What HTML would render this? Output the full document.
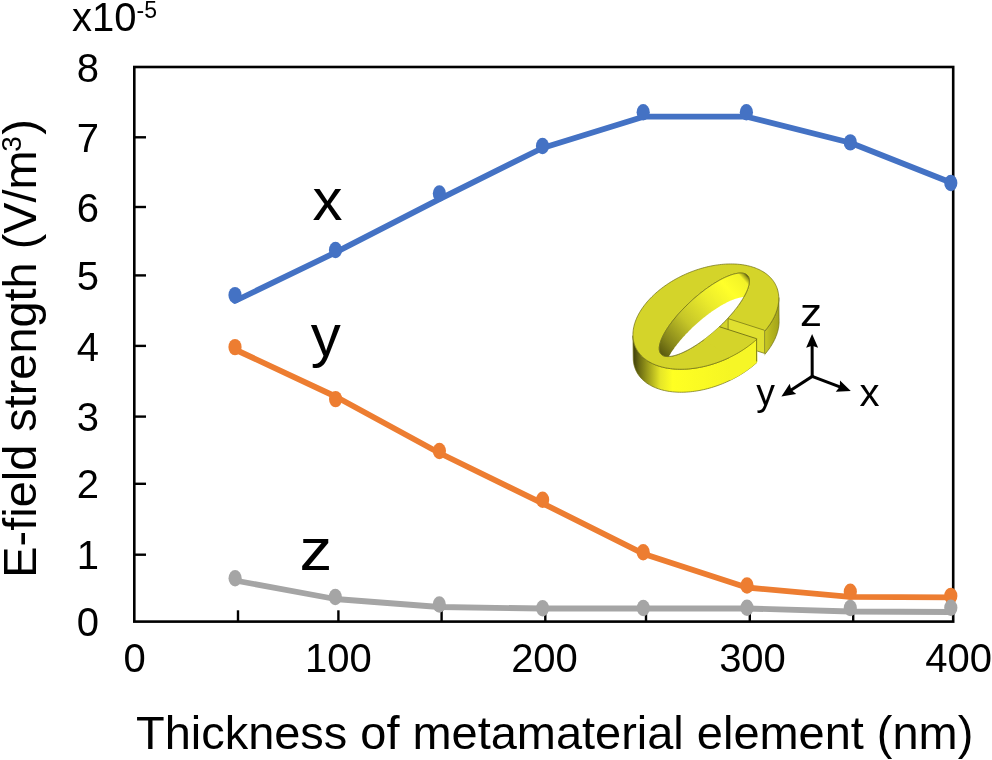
<!DOCTYPE html>
<html><head><meta charset="utf-8"><title>E-field strength vs thickness</title>
<style>
html,body{margin:0;padding:0;background:#fff;}
body{width:992px;height:760px;overflow:hidden;}
svg{display:block;}
text{font-family:"Liberation Sans", Arial, sans-serif;fill:#000;}
</style></head>
<body>
<svg width="992" height="760" viewBox="0 0 992 760">
<rect width="992" height="760" fill="#fff"/>
<rect x="134.3" y="67.0" width="818.9" height="554.6" fill="none" stroke="#000" stroke-width="2.6"/>
<line x1="134.3" y1="137.3" x2="146" y2="137.3" stroke="#000" stroke-width="2.4"/>
<line x1="134.3" y1="207.0" x2="146" y2="207.0" stroke="#000" stroke-width="2.4"/>
<line x1="134.3" y1="275.4" x2="146" y2="275.4" stroke="#000" stroke-width="2.4"/>
<line x1="134.3" y1="345.9" x2="146" y2="345.9" stroke="#000" stroke-width="2.4"/>
<line x1="134.3" y1="416.6" x2="146" y2="416.6" stroke="#000" stroke-width="2.4"/>
<line x1="134.3" y1="483.8" x2="146" y2="483.8" stroke="#000" stroke-width="2.4"/>
<line x1="134.3" y1="554.7" x2="146" y2="554.7" stroke="#000" stroke-width="2.4"/>
<line x1="238.0" y1="621.6" x2="238.0" y2="610.3" stroke="#000" stroke-width="2.4"/>
<line x1="338.4" y1="621.6" x2="338.4" y2="610.3" stroke="#000" stroke-width="2.4"/>
<line x1="441.6" y1="621.6" x2="441.6" y2="610.3" stroke="#000" stroke-width="2.4"/>
<line x1="545.3" y1="621.6" x2="545.3" y2="610.3" stroke="#000" stroke-width="2.4"/>
<line x1="646.0" y1="621.6" x2="646.0" y2="610.3" stroke="#000" stroke-width="2.4"/>
<line x1="749.8" y1="621.6" x2="749.8" y2="610.3" stroke="#000" stroke-width="2.4"/>
<line x1="853.2" y1="621.6" x2="853.2" y2="610.3" stroke="#000" stroke-width="2.4"/>
<text x="99" y="81.6" text-anchor="end" font-size="40">8</text>
<text x="99" y="151.9" text-anchor="end" font-size="40">7</text>
<text x="99" y="221.6" text-anchor="end" font-size="40">6</text>
<text x="99" y="290" text-anchor="end" font-size="40">5</text>
<text x="99" y="360.5" text-anchor="end" font-size="40">4</text>
<text x="99" y="431.2" text-anchor="end" font-size="40">3</text>
<text x="99" y="498.4" text-anchor="end" font-size="40">2</text>
<text x="99" y="569.3" text-anchor="end" font-size="40">1</text>
<text x="99" y="636.2" text-anchor="end" font-size="40">0</text>
<text x="134.5" y="672" text-anchor="middle" font-size="40">0</text>
<text x="338.3" y="672" text-anchor="middle" font-size="40">100</text>
<text x="544.5" y="672" text-anchor="middle" font-size="40">200</text>
<text x="752.5" y="672" text-anchor="middle" font-size="40">300</text>
<text x="958.6" y="672" text-anchor="middle" font-size="40">400</text>
<text x="136" y="749" font-size="46.95">Thickness of metamaterial element (nm)</text>
<text transform="translate(36 577.7) rotate(-90)" x="0" y="0" font-size="46.9">E-field strength (V/m<tspan font-size="28" dx="-1.5" dy="-15.5">3</tspan><tspan dx="1.5" dy="15.5">)</tspan></text>
<text x="72" y="30.8" font-size="40">x10<tspan font-size="23" dy="-13.3">-5</tspan></text>
<polyline points="235,301 335.6,252.4 439.4,199.1 542.5,148 643.5,116.7 746.8,116.7 850.3,142.8 950.8,182.5" fill="none" stroke="#4472C4" stroke-width="5.8" stroke-linejoin="round" stroke-linecap="round"/>
<ellipse cx="235" cy="295.1" rx="6.6" ry="8.2" fill="#4472C4"/>
<ellipse cx="335.5" cy="250" rx="6.6" ry="8.2" fill="#4472C4"/>
<ellipse cx="439.4" cy="193.5" rx="6.6" ry="8.2" fill="#4472C4"/>
<ellipse cx="542.5" cy="146" rx="6.6" ry="8.2" fill="#4472C4"/>
<ellipse cx="643.2" cy="112.3" rx="6.6" ry="8.2" fill="#4472C4"/>
<ellipse cx="746.4" cy="112.3" rx="6.6" ry="8.2" fill="#4472C4"/>
<ellipse cx="850.3" cy="142.4" rx="6.6" ry="8.2" fill="#4472C4"/>
<ellipse cx="950.8" cy="183" rx="6.6" ry="8.2" fill="#4472C4"/>
<polyline points="235,349.5 335.5,396.5 439.4,453 542.6,503.3 643.2,553.7 746.8,587.5 850,596.8 950.8,597.3" fill="none" stroke="#ED7D31" stroke-width="5.8" stroke-linejoin="round" stroke-linecap="round"/>
<ellipse cx="235" cy="347.1" rx="6.6" ry="8.2" fill="#ED7D31"/>
<ellipse cx="335.6" cy="399.1" rx="6.6" ry="8.2" fill="#ED7D31"/>
<ellipse cx="439.4" cy="451" rx="6.6" ry="8.2" fill="#ED7D31"/>
<ellipse cx="542.6" cy="499.8" rx="6.6" ry="8.2" fill="#ED7D31"/>
<ellipse cx="643.2" cy="552.3" rx="6.6" ry="8.2" fill="#ED7D31"/>
<ellipse cx="747" cy="585.5" rx="6.6" ry="8.2" fill="#ED7D31"/>
<ellipse cx="850.3" cy="591.8" rx="6.6" ry="8.2" fill="#ED7D31"/>
<ellipse cx="950.8" cy="595.9" rx="6.6" ry="8.2" fill="#ED7D31"/>
<polyline points="235,580.5 335.3,599 439.4,607 542.6,608.5 643.3,608.5 747,608.5 850,611.5 950.8,612" fill="none" stroke="#A5A5A5" stroke-width="5.8" stroke-linejoin="round" stroke-linecap="round"/>
<ellipse cx="235.1" cy="578.3" rx="6.6" ry="8.2" fill="#A5A5A5"/>
<ellipse cx="335.3" cy="597" rx="6.6" ry="8.2" fill="#A5A5A5"/>
<ellipse cx="439.3" cy="604.5" rx="6.6" ry="8.2" fill="#A5A5A5"/>
<ellipse cx="542.6" cy="608.3" rx="6.6" ry="8.2" fill="#A5A5A5"/>
<ellipse cx="643.3" cy="608" rx="6.6" ry="8.2" fill="#A5A5A5"/>
<ellipse cx="747" cy="607.7" rx="6.6" ry="8.2" fill="#A5A5A5"/>
<ellipse cx="850.3" cy="608" rx="6.6" ry="8.2" fill="#A5A5A5"/>
<ellipse cx="950.8" cy="607.8" rx="6.6" ry="8.2" fill="#A5A5A5"/>
<text x="312.5" y="219.7" font-size="60">x</text>
<text x="310.7" y="355.8" font-size="60">y</text>
<text x="300.3" y="570.3" font-size="60" transform="translate(300.3 0) scale(1.09 1) translate(-301 0)">z</text>
<defs>
<linearGradient id="gside" x1="630" y1="0" x2="782" y2="0" gradientUnits="userSpaceOnUse">
<stop offset="0" stop-color="#262606"/><stop offset="0.06" stop-color="#6a6a12"/><stop offset="0.2" stop-color="#e6e628"/><stop offset="0.28" stop-color="#ffff22"/>
<stop offset="0.7" stop-color="#f4f424"/><stop offset="0.86" stop-color="#d6d626"/><stop offset="0.93" stop-color="#b4b41e"/><stop offset="1" stop-color="#9c9c18"/>
</linearGradient>
<linearGradient id="gin" x1="661" y1="354" x2="747.5" y2="275.5" gradientUnits="userSpaceOnUse">
<stop offset="0" stop-color="#5a5a0e"/><stop offset="0.12" stop-color="#86861a"/><stop offset="0.35" stop-color="#c6c628"/><stop offset="0.6" stop-color="#ebeb2c"/><stop offset="0.8" stop-color="#ffff2a"/><stop offset="0.95" stop-color="#f2f228"/><stop offset="0.985" stop-color="#9a9a1a"/><stop offset="1" stop-color="#4a4a0a"/>
</linearGradient>
<clipPath id="cin"><path d="M747.49,275.5 L747.81,275.88 L748.1,276.29 L748.36,276.72 L748.59,277.18 L748.79,277.67 L748.96,278.18 L749.1,278.72 L749.21,279.28 L749.29,279.86 L749.33,280.47 L749.35,281.11 L749.33,281.76 L749.29,282.44 L749.21,283.14 L749.1,283.87 L748.96,284.61 L748.79,285.37 L748.59,286.16 L748.36,286.96 L748.1,287.79 L747.81,288.63 L747.49,289.49 L747.14,290.37 L746.76,291.26 L746.35,292.17 L745.92,293.1 L745.45,294.04 L744.96,294.99 L744.43,295.96 L743.89,296.94 L743.31,297.94 L742.71,298.94 L742.08,299.96 L741.42,300.99 L740.74,302.02 L740.03,303.07 L739.3,304.12 L738.55,305.18 L737.77,306.25 L736.97,307.32 L736.15,308.4 L735.3,309.48 L734.44,310.56 L733.55,311.65 L732.64,312.74 L731.72,313.83 L730.77,314.93 L729.81,316.02 L728.83,317.11 L727.83,318.2 L726.82,319.29 L725.79,320.37 L724.74,321.46 L723.69,322.53 L722.62,323.6 L721.53,324.67 L720.44,325.73 L719.33,326.78 L718.21,327.82 L717.09,328.85 L715.95,329.88 L714.81,330.89 L713.66,331.89 L712.5,332.88 L711.34,333.86 L710.17,334.83 L709,335.78 L707.83,336.72 L706.65,337.64 L705.47,338.55 L704.29,339.44 L703.11,340.31 L701.94,341.17 L700.76,342 L699.58,342.82 L698.41,343.62 L697.25,344.4 L696.08,345.16 L694.93,345.9 L693.78,346.62 L692.63,347.32 L691.5,347.99 L690.37,348.64 L689.26,349.27 L688.15,349.88 L687.05,350.46 L685.97,351.01 L684.9,351.54 L683.84,352.05 L682.8,352.53 L681.77,352.98 L680.76,353.41 L679.76,353.81 L678.78,354.19 L677.82,354.54 L676.87,354.86 L675.95,355.15 L675.04,355.42 L674.15,355.65 L673.29,355.86 L672.44,356.05 L671.62,356.2 L670.82,356.33 L670.04,356.42 L669.29,356.49 L668.56,356.53 L667.85,356.54 L667.17,356.52 L666.52,356.48 L665.89,356.4 L665.28,356.3 L664.71,356.17 L664.16,356.01 L663.64,355.82 L663.14,355.6 L662.68,355.36 L662.24,355.09 L661.83,354.79 L661.46,354.46 L661.11,354.1 L660.79,353.72 L660.5,353.31 L660.24,352.88 L660.01,352.42 L659.81,351.93 L659.64,351.42 L659.5,350.88 L659.39,350.32 L659.31,349.74 L659.27,349.13 L659.25,348.49 L659.27,347.84 L659.31,347.16 L659.39,346.46 L659.5,345.73 L659.64,344.99 L659.81,344.23 L660.01,343.44 L660.24,342.64 L660.5,341.81 L660.79,340.97 L661.11,340.11 L661.46,339.23 L661.84,338.34 L662.25,337.43 L662.68,336.5 L663.15,335.56 L663.64,334.61 L664.17,333.64 L664.71,332.66 L665.29,331.66 L665.89,330.66 L666.52,329.64 L667.18,328.61 L667.86,327.58 L668.57,326.53 L669.3,325.48 L670.05,324.42 L670.83,323.35 L671.63,322.28 L672.45,321.2 L673.3,320.12 L674.16,319.04 L675.05,317.95 L675.96,316.86 L676.88,315.77 L677.83,314.67 L678.79,313.58 L679.77,312.49 L680.77,311.4 L681.78,310.31 L682.81,309.23 L683.86,308.14 L684.91,307.07 L685.98,306 L687.07,304.93 L688.16,303.87 L689.27,302.82 L690.39,301.78 L691.51,300.75 L692.65,299.72 L693.79,298.71 L694.94,297.71 L696.1,296.72 L697.26,295.74 L698.43,294.77 L699.6,293.82 L700.77,292.88 L701.95,291.96 L703.13,291.05 L704.31,290.16 L705.49,289.29 L706.66,288.43 L707.84,287.6 L709.02,286.78 L710.19,285.98 L711.35,285.2 L712.52,284.44 L713.67,283.7 L714.82,282.98 L715.97,282.28 L717.1,281.61 L718.23,280.96 L719.34,280.33 L720.45,279.72 L721.55,279.14 L722.63,278.59 L723.7,278.06 L724.76,277.55 L725.8,277.07 L726.83,276.62 L727.84,276.19 L728.84,275.79 L729.82,275.41 L730.78,275.06 L731.73,274.74 L732.65,274.45 L733.56,274.18 L734.45,273.95 L735.31,273.74 L736.16,273.55 L736.98,273.4 L737.78,273.27 L738.56,273.18 L739.31,273.11 L740.04,273.07 L740.75,273.06 L741.43,273.08 L742.08,273.12 L742.71,273.2 L743.32,273.3 L743.89,273.43 L744.44,273.59 L744.96,273.78 L745.46,274 L745.92,274.24 L746.36,274.51 L746.77,274.81 L747.14,275.14 Z"/></clipPath>
</defs>
<path d="M778.78,297.5 L778.79,298.79 L778.76,300.09 L778.67,301.4 L778.53,302.73 L778.34,304.06 L778.11,305.41 L777.82,306.76 L777.48,308.11 L777.1,309.48 L776.66,310.84 L776.18,312.22 L775.65,313.59 L775.07,314.97 L774.45,316.35 L773.77,317.73 L773.05,319.1 L772.29,320.48 L771.48,321.85 L770.62,323.22 L769.72,324.59 L768.78,325.95 L767.79,327.3 L766.76,328.64 L765.69,329.98 L764.58,331.31 L763.42,332.63 L762.23,333.94 L761,335.23 L759.73,336.51 L758.43,337.78 L757.08,339.04 L755.71,340.28 L754.3,341.5 L752.85,342.71 L751.38,343.89 L749.87,345.06 L748.33,346.21 L746.77,347.34 L745.17,348.45 L743.55,349.54 L741.9,350.6 L740.23,351.64 L738.53,352.66 L736.82,353.65 L735.08,354.62 L733.32,355.56 L731.54,356.47 L729.74,357.36 L727.93,358.22 L726.1,359.05 L724.26,359.85 L722.41,360.62 L720.54,361.36 L718.67,362.07 L716.78,362.75 L714.89,363.4 L712.99,364.01 L711.09,364.6 L709.19,365.15 L707.28,365.66 L705.37,366.15 L703.46,366.6 L701.55,367.01 L699.65,367.39 L697.75,367.74 L695.85,368.05 L693.97,368.32 L692.09,368.56 L690.22,368.77 L688.36,368.94 L686.51,369.07 L684.67,369.17 L682.85,369.23 L681.05,369.25 L679.26,369.24 L677.5,369.19 L675.75,369.11 L674.02,368.99 L672.31,368.83 L670.63,368.64 L668.97,368.42 L667.33,368.15 L665.72,367.86 L664.14,367.52 L662.59,367.15 L661.07,366.75 L659.58,366.32 L658.12,365.84 L656.69,365.34 L655.3,364.8 L653.94,364.23 L652.62,363.63 L651.33,362.99 L650.08,362.32 L648.87,361.62 L647.7,360.89 L646.57,360.13 L645.47,359.34 L644.42,358.53 L643.42,357.68 L642.45,356.8 L641.53,355.9 L640.65,354.97 L639.82,354.01 L639.03,353.03 L638.29,352.02 L637.59,350.99 L636.94,349.93 L636.34,348.85 L635.79,347.75 L635.28,346.63 L634.83,345.49 L634.42,344.33 L634.06,343.14 L633.75,341.95 L633.49,340.73 L633.27,339.5 L633.11,338.25 L633,336.98 L632.94,335.7 L633.24,358.7 L633.3,359.98 L633.41,361.25 L633.57,362.5 L633.79,363.73 L634.05,364.95 L634.36,366.14 L634.72,367.33 L635.13,368.49 L635.58,369.63 L636.09,370.75 L636.64,371.85 L637.24,372.93 L637.89,373.99 L638.59,375.02 L639.33,376.03 L640.12,377.01 L640.95,377.97 L641.83,378.9 L642.75,379.8 L643.72,380.68 L644.72,381.53 L645.77,382.34 L646.87,383.13 L648,383.89 L649.17,384.62 L650.38,385.32 L651.63,385.99 L652.92,386.63 L654.24,387.23 L655.6,387.8 L656.99,388.34 L658.42,388.84 L659.88,389.32 L661.37,389.75 L662.89,390.15 L664.44,390.52 L666.02,390.86 L667.63,391.15 L669.27,391.42 L670.93,391.64 L672.61,391.83 L674.32,391.99 L676.05,392.11 L677.8,392.19 L679.56,392.24 L681.35,392.25 L683.15,392.23 L684.97,392.17 L686.81,392.07 L688.66,391.94 L690.52,391.77 L692.39,391.56 L694.27,391.32 L696.15,391.05 L698.05,390.74 L699.95,390.39 L701.85,390.01 L703.76,389.6 L705.67,389.15 L707.58,388.66 L709.49,388.15 L711.39,387.6 L713.29,387.01 L715.19,386.4 L717.08,385.75 L718.97,385.07 L720.84,384.36 L722.71,383.62 L724.56,382.85 L726.4,382.05 L728.23,381.22 L730.04,380.36 L731.84,379.47 L733.62,378.56 L735.38,377.62 L737.12,376.65 L738.83,375.66 L740.53,374.64 L742.2,373.6 L743.85,372.54 L745.47,371.45 L747.07,370.34 L748.63,369.21 L750.17,368.06 L751.68,366.89 L753.15,365.71 L754.6,364.5 L756.01,363.28 L757.38,362.04 L758.73,360.78 L760.03,359.51 L761.3,358.23 L762.53,356.94 L763.72,355.63 L764.88,354.31 L765.99,352.98 L767.06,351.64 L768.09,350.3 L769.08,348.95 L770.02,347.59 L770.92,346.22 L771.78,344.85 L772.59,343.48 L773.35,342.1 L774.07,340.73 L774.75,339.35 L775.37,337.97 L775.95,336.59 L776.48,335.22 L776.96,333.84 L777.4,332.48 L777.78,331.11 L778.12,329.76 L778.41,328.41 L778.64,327.06 L778.83,325.73 L778.97,324.4 L779.06,323.09 L779.09,321.79 L779.08,320.5 Z" fill="url(#gside)" stroke="#707014" stroke-width="0.9" stroke-opacity="0.8"/>
<path d="M776.44,286.57 L776.89,287.71 L777.3,288.87 L777.66,290.06 L777.97,291.25 L778.23,292.47 L778.45,293.7 L778.61,294.95 L778.72,296.22 L778.78,297.5 L778.79,298.79 L778.76,300.09 L778.67,301.4 L778.53,302.73 L778.34,304.06 L778.11,305.41 L777.82,306.76 L777.48,308.11 L777.1,309.48 L776.66,310.84 L776.18,312.22 L775.65,313.59 L775.07,314.97 L774.45,316.35 L773.77,317.73 L773.05,319.1 L772.29,320.48 L771.48,321.85 L770.62,323.22 L769.72,324.59 L768.78,325.95 L767.79,327.3 L766.76,328.64 L765.69,329.98 L764.58,331.31 L763.42,332.63 L762.23,333.94 L761,335.23 L759.73,336.51 L758.43,337.78 L757.08,339.04 L755.71,340.28 L754.3,341.5 L752.85,342.71 L751.38,343.89 L749.87,345.06 L748.33,346.21 L746.77,347.34 L745.17,348.45 L743.55,349.54 L741.9,350.6 L740.23,351.64 L738.53,352.66 L736.82,353.65 L735.08,354.62 L733.32,355.56 L731.54,356.47 L729.74,357.36 L727.93,358.22 L726.1,359.05 L724.26,359.85 L722.41,360.62 L720.54,361.36 L718.67,362.07 L716.78,362.75 L714.89,363.4 L712.99,364.01 L711.09,364.6 L709.19,365.15 L707.28,365.66 L705.37,366.15 L703.46,366.6 L701.55,367.01 L699.65,367.39 L697.75,367.74 L695.85,368.05 L693.97,368.32 L692.09,368.56 L690.22,368.77 L688.36,368.94 L686.51,369.07 L684.67,369.17 L682.85,369.23 L681.05,369.25 L679.26,369.24 L677.5,369.19 L675.75,369.11 L674.02,368.99 L672.31,368.83 L670.63,368.64 L668.97,368.42 L667.33,368.15 L665.72,367.86 L664.14,367.52 L662.59,367.15 L661.07,366.75 L659.58,366.32 L658.12,365.84 L656.69,365.34 L655.3,364.8 L653.94,364.23 L652.62,363.63 L651.33,362.99 L650.08,362.32 L648.87,361.62 L647.7,360.89 L646.57,360.13 L645.47,359.34 L644.42,358.53 L643.42,357.68 L642.45,356.8 L641.53,355.9 L640.65,354.97 L639.82,354.01 L639.03,353.03 L638.29,352.02 L637.59,350.99 L636.94,349.93 L636.34,348.85 L635.79,347.75 L635.28,346.63 L634.83,345.49 L634.42,344.33 L634.06,343.14 L633.75,341.95 L633.49,340.73 L633.27,339.5 L633.11,338.25 L633,336.98 L632.94,335.7 L632.93,334.41 L632.96,333.11 L633.05,331.8 L633.19,330.47 L633.38,329.14 L633.61,327.79 L633.9,326.44 L634.24,325.09 L634.62,323.72 L635.06,322.36 L635.54,320.98 L636.07,319.61 L636.65,318.23 L637.27,316.85 L637.95,315.47 L638.67,314.1 L639.43,312.72 L640.24,311.35 L641.1,309.98 L642,308.61 L642.94,307.25 L643.93,305.9 L644.96,304.56 L646.03,303.22 L647.14,301.89 L648.3,300.57 L649.49,299.26 L650.72,297.97 L651.99,296.69 L653.29,295.42 L654.64,294.16 L656.01,292.92 L657.42,291.7 L658.87,290.49 L660.34,289.31 L661.85,288.14 L663.39,286.99 L664.95,285.86 L666.55,284.75 L668.17,283.66 L669.82,282.6 L671.49,281.56 L673.19,280.54 L674.9,279.55 L676.64,278.58 L678.4,277.64 L680.18,276.73 L681.98,275.84 L683.79,274.98 L685.62,274.15 L687.46,273.35 L689.31,272.58 L691.18,271.84 L693.05,271.13 L694.94,270.45 L696.83,269.8 L698.73,269.19 L700.63,268.6 L702.53,268.05 L704.44,267.54 L706.35,267.05 L708.26,266.6 L710.17,266.19 L712.07,265.81 L713.97,265.46 L715.87,265.15 L717.75,264.88 L719.63,264.64 L721.5,264.43 L723.36,264.26 L725.21,264.13 L727.05,264.03 L728.87,263.97 L730.67,263.95 L732.46,263.96 L734.22,264.01 L735.97,264.09 L737.7,264.21 L739.41,264.37 L741.09,264.56 L742.75,264.78 L744.39,265.05 L746,265.34 L747.58,265.68 L749.13,266.05 L750.65,266.45 L752.14,266.88 L753.6,267.36 L755.03,267.86 L756.42,268.4 L757.78,268.97 L759.1,269.57 L760.39,270.21 L761.64,270.88 L762.85,271.58 L764.02,272.31 L765.15,273.07 L766.25,273.86 L767.3,274.67 L768.3,275.52 L769.27,276.4 L770.19,277.3 L771.07,278.23 L771.9,279.19 L772.69,280.17 L773.43,281.18 L774.13,282.21 L774.78,283.27 L775.38,284.35 L775.93,285.45 Z M747.49,275.5 L747.81,275.88 L748.1,276.29 L748.36,276.72 L748.59,277.18 L748.79,277.67 L748.96,278.18 L749.1,278.72 L749.21,279.28 L749.29,279.86 L749.33,280.47 L749.35,281.11 L749.33,281.76 L749.29,282.44 L749.21,283.14 L749.1,283.87 L748.96,284.61 L748.79,285.37 L748.59,286.16 L748.36,286.96 L748.1,287.79 L747.81,288.63 L747.49,289.49 L747.14,290.37 L746.76,291.26 L746.35,292.17 L745.92,293.1 L745.45,294.04 L744.96,294.99 L744.43,295.96 L743.89,296.94 L743.31,297.94 L742.71,298.94 L742.08,299.96 L741.42,300.99 L740.74,302.02 L740.03,303.07 L739.3,304.12 L738.55,305.18 L737.77,306.25 L736.97,307.32 L736.15,308.4 L735.3,309.48 L734.44,310.56 L733.55,311.65 L732.64,312.74 L731.72,313.83 L730.77,314.93 L729.81,316.02 L728.83,317.11 L727.83,318.2 L726.82,319.29 L725.79,320.37 L724.74,321.46 L723.69,322.53 L722.62,323.6 L721.53,324.67 L720.44,325.73 L719.33,326.78 L718.21,327.82 L717.09,328.85 L715.95,329.88 L714.81,330.89 L713.66,331.89 L712.5,332.88 L711.34,333.86 L710.17,334.83 L709,335.78 L707.83,336.72 L706.65,337.64 L705.47,338.55 L704.29,339.44 L703.11,340.31 L701.94,341.17 L700.76,342 L699.58,342.82 L698.41,343.62 L697.25,344.4 L696.08,345.16 L694.93,345.9 L693.78,346.62 L692.63,347.32 L691.5,347.99 L690.37,348.64 L689.26,349.27 L688.15,349.88 L687.05,350.46 L685.97,351.01 L684.9,351.54 L683.84,352.05 L682.8,352.53 L681.77,352.98 L680.76,353.41 L679.76,353.81 L678.78,354.19 L677.82,354.54 L676.87,354.86 L675.95,355.15 L675.04,355.42 L674.15,355.65 L673.29,355.86 L672.44,356.05 L671.62,356.2 L670.82,356.33 L670.04,356.42 L669.29,356.49 L668.56,356.53 L667.85,356.54 L667.17,356.52 L666.52,356.48 L665.89,356.4 L665.28,356.3 L664.71,356.17 L664.16,356.01 L663.64,355.82 L663.14,355.6 L662.68,355.36 L662.24,355.09 L661.83,354.79 L661.46,354.46 L661.11,354.1 L660.79,353.72 L660.5,353.31 L660.24,352.88 L660.01,352.42 L659.81,351.93 L659.64,351.42 L659.5,350.88 L659.39,350.32 L659.31,349.74 L659.27,349.13 L659.25,348.49 L659.27,347.84 L659.31,347.16 L659.39,346.46 L659.5,345.73 L659.64,344.99 L659.81,344.23 L660.01,343.44 L660.24,342.64 L660.5,341.81 L660.79,340.97 L661.11,340.11 L661.46,339.23 L661.84,338.34 L662.25,337.43 L662.68,336.5 L663.15,335.56 L663.64,334.61 L664.17,333.64 L664.71,332.66 L665.29,331.66 L665.89,330.66 L666.52,329.64 L667.18,328.61 L667.86,327.58 L668.57,326.53 L669.3,325.48 L670.05,324.42 L670.83,323.35 L671.63,322.28 L672.45,321.2 L673.3,320.12 L674.16,319.04 L675.05,317.95 L675.96,316.86 L676.88,315.77 L677.83,314.67 L678.79,313.58 L679.77,312.49 L680.77,311.4 L681.78,310.31 L682.81,309.23 L683.86,308.14 L684.91,307.07 L685.98,306 L687.07,304.93 L688.16,303.87 L689.27,302.82 L690.39,301.78 L691.51,300.75 L692.65,299.72 L693.79,298.71 L694.94,297.71 L696.1,296.72 L697.26,295.74 L698.43,294.77 L699.6,293.82 L700.77,292.88 L701.95,291.96 L703.13,291.05 L704.31,290.16 L705.49,289.29 L706.66,288.43 L707.84,287.6 L709.02,286.78 L710.19,285.98 L711.35,285.2 L712.52,284.44 L713.67,283.7 L714.82,282.98 L715.97,282.28 L717.1,281.61 L718.23,280.96 L719.34,280.33 L720.45,279.72 L721.55,279.14 L722.63,278.59 L723.7,278.06 L724.76,277.55 L725.8,277.07 L726.83,276.62 L727.84,276.19 L728.84,275.79 L729.82,275.41 L730.78,275.06 L731.73,274.74 L732.65,274.45 L733.56,274.18 L734.45,273.95 L735.31,273.74 L736.16,273.55 L736.98,273.4 L737.78,273.27 L738.56,273.18 L739.31,273.11 L740.04,273.07 L740.75,273.06 L741.43,273.08 L742.08,273.12 L742.71,273.2 L743.32,273.3 L743.89,273.43 L744.44,273.59 L744.96,273.78 L745.46,274 L745.92,274.24 L746.36,274.51 L746.77,274.81 L747.14,275.14 Z" fill="#d4d42a" fill-rule="evenodd" stroke="#707014" stroke-width="0.9" stroke-opacity="0.8"/>
<path d="M747.49,275.5 L747.81,275.88 L748.1,276.29 L748.36,276.72 L748.59,277.18 L748.79,277.67 L748.96,278.18 L749.1,278.72 L749.21,279.28 L749.29,279.86 L749.33,280.47 L749.35,281.11 L749.33,281.76 L749.29,282.44 L749.21,283.14 L749.1,283.87 L748.96,284.61 L748.79,285.37 L748.59,286.16 L748.36,286.96 L748.1,287.79 L747.81,288.63 L747.49,289.49 L747.14,290.37 L746.76,291.26 L746.35,292.17 L745.92,293.1 L745.45,294.04 L744.96,294.99 L744.43,295.96 L743.89,296.94 L743.31,297.94 L742.71,298.94 L742.08,299.96 L741.42,300.99 L740.74,302.02 L740.03,303.07 L739.3,304.12 L738.55,305.18 L737.77,306.25 L736.97,307.32 L736.15,308.4 L735.3,309.48 L734.44,310.56 L733.55,311.65 L732.64,312.74 L731.72,313.83 L730.77,314.93 L729.81,316.02 L728.83,317.11 L727.83,318.2 L726.82,319.29 L725.79,320.37 L724.74,321.46 L723.69,322.53 L722.62,323.6 L721.53,324.67 L720.44,325.73 L719.33,326.78 L718.21,327.82 L717.09,328.85 L715.95,329.88 L714.81,330.89 L713.66,331.89 L712.5,332.88 L711.34,333.86 L710.17,334.83 L709,335.78 L707.83,336.72 L706.65,337.64 L705.47,338.55 L704.29,339.44 L703.11,340.31 L701.94,341.17 L700.76,342 L699.58,342.82 L698.41,343.62 L697.25,344.4 L696.08,345.16 L694.93,345.9 L693.78,346.62 L692.63,347.32 L691.5,347.99 L690.37,348.64 L689.26,349.27 L688.15,349.88 L687.05,350.46 L685.97,351.01 L684.9,351.54 L683.84,352.05 L682.8,352.53 L681.77,352.98 L680.76,353.41 L679.76,353.81 L678.78,354.19 L677.82,354.54 L676.87,354.86 L675.95,355.15 L675.04,355.42 L674.15,355.65 L673.29,355.86 L672.44,356.05 L671.62,356.2 L670.82,356.33 L670.04,356.42 L669.29,356.49 L668.56,356.53 L667.85,356.54 L667.17,356.52 L666.52,356.48 L665.89,356.4 L665.28,356.3 L664.71,356.17 L664.16,356.01 L663.64,355.82 L663.14,355.6 L662.68,355.36 L662.24,355.09 L661.83,354.79 L661.46,354.46 L661.11,354.1 L660.79,353.72 L660.5,353.31 L660.24,352.88 L660.01,352.42 L659.81,351.93 L659.64,351.42 L659.5,350.88 L659.39,350.32 L659.31,349.74 L659.27,349.13 L659.25,348.49 L659.27,347.84 L659.31,347.16 L659.39,346.46 L659.5,345.73 L659.64,344.99 L659.81,344.23 L660.01,343.44 L660.24,342.64 L660.5,341.81 L660.79,340.97 L661.11,340.11 L661.46,339.23 L661.84,338.34 L662.25,337.43 L662.68,336.5 L663.15,335.56 L663.64,334.61 L664.17,333.64 L664.71,332.66 L665.29,331.66 L665.89,330.66 L666.52,329.64 L667.18,328.61 L667.86,327.58 L668.57,326.53 L669.3,325.48 L670.05,324.42 L670.83,323.35 L671.63,322.28 L672.45,321.2 L673.3,320.12 L674.16,319.04 L675.05,317.95 L675.96,316.86 L676.88,315.77 L677.83,314.67 L678.79,313.58 L679.77,312.49 L680.77,311.4 L681.78,310.31 L682.81,309.23 L683.86,308.14 L684.91,307.07 L685.98,306 L687.07,304.93 L688.16,303.87 L689.27,302.82 L690.39,301.78 L691.51,300.75 L692.65,299.72 L693.79,298.71 L694.94,297.71 L696.1,296.72 L697.26,295.74 L698.43,294.77 L699.6,293.82 L700.77,292.88 L701.95,291.96 L703.13,291.05 L704.31,290.16 L705.49,289.29 L706.66,288.43 L707.84,287.6 L709.02,286.78 L710.19,285.98 L711.35,285.2 L712.52,284.44 L713.67,283.7 L714.82,282.98 L715.97,282.28 L717.1,281.61 L718.23,280.96 L719.34,280.33 L720.45,279.72 L721.55,279.14 L722.63,278.59 L723.7,278.06 L724.76,277.55 L725.8,277.07 L726.83,276.62 L727.84,276.19 L728.84,275.79 L729.82,275.41 L730.78,275.06 L731.73,274.74 L732.65,274.45 L733.56,274.18 L734.45,273.95 L735.31,273.74 L736.16,273.55 L736.98,273.4 L737.78,273.27 L738.56,273.18 L739.31,273.11 L740.04,273.07 L740.75,273.06 L741.43,273.08 L742.08,273.12 L742.71,273.2 L743.32,273.3 L743.89,273.43 L744.44,273.59 L744.96,273.78 L745.46,274 L745.92,274.24 L746.36,274.51 L746.77,274.81 L747.14,275.14 Z" fill="url(#gin)"/>
<path d="M751.49,299.5 L751.81,299.88 L752.1,300.29 L752.36,300.72 L752.59,301.18 L752.79,301.67 L752.96,302.18 L753.1,302.72 L753.21,303.28 L753.29,303.86 L753.33,304.47 L753.35,305.11 L753.33,305.76 L753.29,306.44 L753.21,307.14 L753.1,307.87 L752.96,308.61 L752.79,309.37 L752.59,310.16 L752.36,310.96 L752.1,311.79 L751.81,312.63 L751.49,313.49 L751.14,314.37 L750.76,315.26 L750.35,316.17 L749.92,317.1 L749.45,318.04 L748.96,318.99 L748.43,319.96 L747.89,320.94 L747.31,321.94 L746.71,322.94 L746.08,323.96 L745.42,324.99 L744.74,326.02 L744.03,327.07 L743.3,328.12 L742.55,329.18 L741.77,330.25 L740.97,331.32 L740.15,332.4 L739.3,333.48 L738.44,334.56 L737.55,335.65 L736.64,336.74 L735.72,337.83 L734.77,338.93 L733.81,340.02 L732.83,341.11 L731.83,342.2 L730.82,343.29 L729.79,344.37 L728.74,345.46 L727.69,346.53 L726.62,347.6 L725.53,348.67 L724.44,349.73 L723.33,350.78 L722.21,351.82 L721.09,352.85 L719.95,353.88 L718.81,354.89 L717.66,355.89 L716.5,356.88 L715.34,357.86 L714.17,358.83 L713,359.78 L711.83,360.72 L710.65,361.64 L709.47,362.55 L708.29,363.44 L707.11,364.31 L705.94,365.17 L704.76,366 L703.58,366.82 L702.41,367.62 L701.25,368.4 L700.08,369.16 L698.93,369.9 L697.78,370.62 L696.63,371.32 L695.5,371.99 L694.37,372.64 L693.26,373.27 L692.15,373.88 L691.05,374.46 L689.97,375.01 L688.9,375.54 L687.84,376.05 L686.8,376.53 L685.77,376.98 L684.76,377.41 L683.76,377.81 L682.78,378.19 L681.82,378.54 L680.87,378.86 L679.95,379.15 L679.04,379.42 L678.15,379.65 L677.29,379.86 L676.44,380.05 L675.62,380.2 L674.82,380.33 L674.04,380.42 L673.29,380.49 L672.56,380.53 L671.85,380.54 L671.17,380.52 L670.52,380.48 L669.89,380.4 L669.28,380.3 L668.71,380.17 L668.16,380.01 L667.64,379.82 L667.14,379.6 L666.68,379.36 L666.24,379.09 L665.83,378.79 L665.46,378.46 L665.11,378.1 L664.79,377.72 L664.5,377.31 L664.24,376.88 L664.01,376.42 L663.81,375.93 L663.64,375.42 L663.5,374.88 L663.39,374.32 L663.31,373.74 L663.27,373.13 L663.25,372.49 L663.27,371.84 L663.31,371.16 L663.39,370.46 L663.5,369.73 L663.64,368.99 L663.81,368.23 L664.01,367.44 L664.24,366.64 L664.5,365.81 L664.79,364.97 L665.11,364.11 L665.46,363.23 L665.84,362.34 L666.25,361.43 L666.68,360.5 L667.15,359.56 L667.64,358.61 L668.17,357.64 L668.71,356.66 L669.29,355.66 L669.89,354.66 L670.52,353.64 L671.18,352.61 L671.86,351.58 L672.57,350.53 L673.3,349.48 L674.05,348.42 L674.83,347.35 L675.63,346.28 L676.45,345.2 L677.3,344.12 L678.16,343.04 L679.05,341.95 L679.96,340.86 L680.88,339.77 L681.83,338.67 L682.79,337.58 L683.77,336.49 L684.77,335.4 L685.78,334.31 L686.81,333.23 L687.86,332.14 L688.91,331.07 L689.98,330 L691.07,328.93 L692.16,327.87 L693.27,326.82 L694.39,325.78 L695.51,324.75 L696.65,323.72 L697.79,322.71 L698.94,321.71 L700.1,320.72 L701.26,319.74 L702.43,318.77 L703.6,317.82 L704.77,316.88 L705.95,315.96 L707.13,315.05 L708.31,314.16 L709.49,313.29 L710.66,312.43 L711.84,311.6 L713.02,310.78 L714.19,309.98 L715.35,309.2 L716.52,308.44 L717.67,307.7 L718.82,306.98 L719.97,306.28 L721.1,305.61 L722.23,304.96 L723.34,304.33 L724.45,303.72 L725.55,303.14 L726.63,302.59 L727.7,302.06 L728.76,301.55 L729.8,301.07 L730.83,300.62 L731.84,300.19 L732.84,299.79 L733.82,299.41 L734.78,299.06 L735.73,298.74 L736.65,298.45 L737.56,298.18 L738.45,297.95 L739.31,297.74 L740.16,297.55 L740.98,297.4 L741.78,297.27 L742.56,297.18 L743.31,297.11 L744.04,297.07 L744.75,297.06 L745.43,297.08 L746.08,297.12 L746.71,297.2 L747.32,297.3 L747.89,297.43 L748.44,297.59 L748.96,297.78 L749.46,298 L749.92,298.24 L750.36,298.51 L750.77,298.81 L751.14,299.14 Z" fill="#fff" clip-path="url(#cin)"/>
<path d="M747.49,275.5 L747.81,275.88 L748.1,276.29 L748.36,276.72 L748.59,277.18 L748.79,277.67 L748.96,278.18 L749.1,278.72 L749.21,279.28 L749.29,279.86 L749.33,280.47 L749.35,281.11 L749.33,281.76 L749.29,282.44 L749.21,283.14 L749.1,283.87 L748.96,284.61 L748.79,285.37 L748.59,286.16 L748.36,286.96 L748.1,287.79 L747.81,288.63 L747.49,289.49 L747.14,290.37 L746.76,291.26 L746.35,292.17 L745.92,293.1 L745.45,294.04 L744.96,294.99 L744.43,295.96 L743.89,296.94 L743.31,297.94 L742.71,298.94 L742.08,299.96 L741.42,300.99 L740.74,302.02 L740.03,303.07 L739.3,304.12 L738.55,305.18 L737.77,306.25 L736.97,307.32 L736.15,308.4 L735.3,309.48 L734.44,310.56 L733.55,311.65 L732.64,312.74 L731.72,313.83 L730.77,314.93 L729.81,316.02 L728.83,317.11 L727.83,318.2 L726.82,319.29 L725.79,320.37 L724.74,321.46 L723.69,322.53 L722.62,323.6 L721.53,324.67 L720.44,325.73 L719.33,326.78 L718.21,327.82 L717.09,328.85 L715.95,329.88 L714.81,330.89 L713.66,331.89 L712.5,332.88 L711.34,333.86 L710.17,334.83 L709,335.78 L707.83,336.72 L706.65,337.64 L705.47,338.55 L704.29,339.44 L703.11,340.31 L701.94,341.17 L700.76,342 L699.58,342.82 L698.41,343.62 L697.25,344.4 L696.08,345.16 L694.93,345.9 L693.78,346.62 L692.63,347.32 L691.5,347.99 L690.37,348.64 L689.26,349.27 L688.15,349.88 L687.05,350.46 L685.97,351.01 L684.9,351.54 L683.84,352.05 L682.8,352.53 L681.77,352.98 L680.76,353.41 L679.76,353.81 L678.78,354.19 L677.82,354.54 L676.87,354.86 L675.95,355.15 L675.04,355.42 L674.15,355.65 L673.29,355.86 L672.44,356.05 L671.62,356.2 L670.82,356.33 L670.04,356.42 L669.29,356.49 L668.56,356.53 L667.85,356.54 L667.17,356.52 L666.52,356.48 L665.89,356.4 L665.28,356.3 L664.71,356.17 L664.16,356.01 L663.64,355.82 L663.14,355.6 L662.68,355.36 L662.24,355.09 L661.83,354.79 L661.46,354.46 L661.11,354.1 L660.79,353.72 L660.5,353.31 L660.24,352.88 L660.01,352.42 L659.81,351.93 L659.64,351.42 L659.5,350.88 L659.39,350.32 L659.31,349.74 L659.27,349.13 L659.25,348.49 L659.27,347.84 L659.31,347.16 L659.39,346.46 L659.5,345.73 L659.64,344.99 L659.81,344.23 L660.01,343.44 L660.24,342.64 L660.5,341.81 L660.79,340.97 L661.11,340.11 L661.46,339.23 L661.84,338.34 L662.25,337.43 L662.68,336.5 L663.15,335.56 L663.64,334.61 L664.17,333.64 L664.71,332.66 L665.29,331.66 L665.89,330.66 L666.52,329.64 L667.18,328.61 L667.86,327.58 L668.57,326.53 L669.3,325.48 L670.05,324.42 L670.83,323.35 L671.63,322.28 L672.45,321.2 L673.3,320.12 L674.16,319.04 L675.05,317.95 L675.96,316.86 L676.88,315.77 L677.83,314.67 L678.79,313.58 L679.77,312.49 L680.77,311.4 L681.78,310.31 L682.81,309.23 L683.86,308.14 L684.91,307.07 L685.98,306 L687.07,304.93 L688.16,303.87 L689.27,302.82 L690.39,301.78 L691.51,300.75 L692.65,299.72 L693.79,298.71 L694.94,297.71 L696.1,296.72 L697.26,295.74 L698.43,294.77 L699.6,293.82 L700.77,292.88 L701.95,291.96 L703.13,291.05 L704.31,290.16 L705.49,289.29 L706.66,288.43 L707.84,287.6 L709.02,286.78 L710.19,285.98 L711.35,285.2 L712.52,284.44 L713.67,283.7 L714.82,282.98 L715.97,282.28 L717.1,281.61 L718.23,280.96 L719.34,280.33 L720.45,279.72 L721.55,279.14 L722.63,278.59 L723.7,278.06 L724.76,277.55 L725.8,277.07 L726.83,276.62 L727.84,276.19 L728.84,275.79 L729.82,275.41 L730.78,275.06 L731.73,274.74 L732.65,274.45 L733.56,274.18 L734.45,273.95 L735.31,273.74 L736.16,273.55 L736.98,273.4 L737.78,273.27 L738.56,273.18 L739.31,273.11 L740.04,273.07 L740.75,273.06 L741.43,273.08 L742.08,273.12 L742.71,273.2 L743.32,273.3 L743.89,273.43 L744.44,273.59 L744.96,273.78 L745.46,274 L745.92,274.24 L746.36,274.51 L746.77,274.81 L747.14,275.14 Z" fill="none" stroke="#707014" stroke-width="0.9" stroke-opacity="0.8"/>
<path d="M757,337.5 L764.6,329.5 L764.6,366 L757,366 Z" fill="#fff"/>
<path d="M728.1,318.6 L764.6,330.3 L764.6,353.4 L728.1,341.7 Z" fill="#e0e030" stroke="#707014" stroke-width="0.9" stroke-opacity="0.8"/>
<path d="M719.3,326.7 L756.6,338.7 L755.71,340.28 L754.3,341.5 L752.85,342.71 L751.38,343.89 L749.87,345.06 L748.33,346.21 L746.77,347.34 L745.17,348.45 L743.55,349.54 L741.9,350.6 L740.23,351.64 L738.53,352.66 L736.82,353.65 L735.08,354.62 L733.32,355.56 L731.54,356.47 L729.74,357.36 L704.29,339.44 L705.47,338.55 L706.65,337.64 L707.83,336.72 L709,335.78 L710.17,334.83 L711.34,333.86 L712.5,332.88 L713.66,331.89 L714.81,330.89 L715.95,329.88 L717.09,328.85 L718.21,327.82 Z" fill="#d4d42a"/>
<path d="M719.3,326.7 L756.6,338.7" stroke="#707014" stroke-width="0.9"/>
<path d="M757.08,339.04 L755.71,340.28 L754.3,341.5 L752.85,342.71 L751.38,343.89 L749.87,345.06 L748.33,346.21 L746.77,347.34 L745.17,348.45 L743.55,349.54 L741.9,350.6 L740.23,351.64 L738.53,352.66 L736.82,353.65 L735.08,354.62 L733.32,355.56 L731.54,356.47 L729.74,357.36 L730.04,380.36 L731.84,379.47 L733.62,378.56 L735.38,377.62 L737.12,376.65 L738.83,375.66 L740.53,374.64 L742.2,373.6 L743.85,372.54 L745.47,371.45 L747.07,370.34 L748.63,369.21 L750.17,368.06 L751.68,366.89 L753.15,365.71 L754.6,364.5 L756.01,363.28 L757.38,362.04 Z" fill="#f6f626"/>
<path d="M757.08,339.04 L755.71,340.28 L754.3,341.5 L752.85,342.71 L751.38,343.89 L749.87,345.06 L748.33,346.21 L746.77,347.34 L745.17,348.45 L743.55,349.54 L741.9,350.6 L740.23,351.64 L738.53,352.66 L736.82,353.65 L735.08,354.62 L733.32,355.56 L731.54,356.47 L729.74,357.36" fill="none" stroke="#707014" stroke-width="0.9" stroke-opacity="0.8"/>
<path d="M756.6,338.7 L756.6,361.5" stroke="#707014" stroke-width="0.9"/>
<line x1="812.2" y1="376.4" x2="812.13" y2="345.7" stroke="#000" stroke-width="3" stroke-linecap="square"/><path d="M812.1,333.9 L818.13,347.69 L812.13,345.7 L806.13,347.71 Z" fill="#000"/>
<line x1="812.2" y1="376.4" x2="839.76" y2="386.83" stroke="#000" stroke-width="3" stroke-linecap="square"/><path d="M850.8,391 L835.77,391.73 L839.76,386.83 L840.02,380.51 Z" fill="#000"/>
<line x1="812.2" y1="376.4" x2="791.3" y2="389.97" stroke="#000" stroke-width="3" stroke-linecap="square"/><path d="M781.4,396.4 L789.71,383.85 L791.3,389.97 L796.24,393.92 Z" fill="#000"/>
<text x="800" y="325.8" font-size="38.5" transform="translate(800 0) scale(1.15 1) translate(-800 0)">z</text>
<text x="756.3" y="404.7" font-size="36.3" transform="translate(756.3 0) scale(1.03 1) translate(-756.3 0)">y</text>
<text x="859.5" y="406.3" font-size="38.5" transform="translate(859.5 0) scale(1.04 1) translate(-859.5 0)">x</text>
</svg>
</body></html>
